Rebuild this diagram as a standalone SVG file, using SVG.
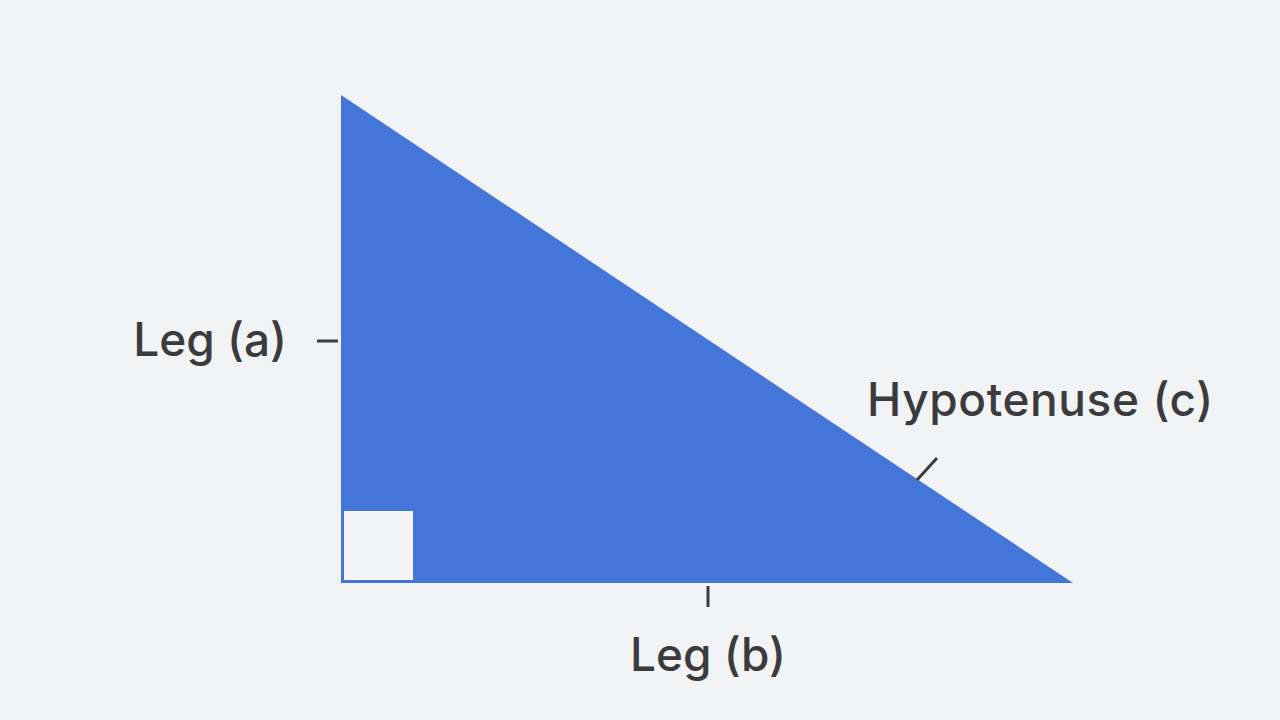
<svg xmlns="http://www.w3.org/2000/svg" width="1280" height="720" viewBox="0 0 1280 720">
<style>
.lbl{font-family:Inter,"Noto Sans","Liberation Sans",sans-serif;font-size:46px;font-weight:500;fill:#3b3b3d}
.tick{stroke:#3b3b3d;stroke-width:3;fill:none}
</style>
<rect width="1280" height="720" fill="#f2f3f5"/>
<g id="triangle">
<polygon points="341,95 341,583 1073,583" fill="#4475d9"/>
<rect x="343.5" y="510.5" width="70" height="70" fill="#f4f5f7" stroke="#4475d9" stroke-width="1"/>
</g>
<g id="connectors">
<line class="tick" x1="317" y1="341" x2="338" y2="341"/>
<line class="tick" x1="708" y1="586" x2="708" y2="607"/>
<line class="tick" x1="917" y1="480" x2="937" y2="458"/>
</g>
<g id="leg-a"><text class="lbl" x="287" y="356" text-anchor="end">Leg (a)</text></g>
<g id="leg-b"><text class="lbl" x="708" y="671" text-anchor="middle">Leg (b)</text></g>
<g id="hypotenuse"><text class="lbl" x="867" y="416" letter-spacing="0.6">Hypotenuse (c)</text></g>
</svg>
